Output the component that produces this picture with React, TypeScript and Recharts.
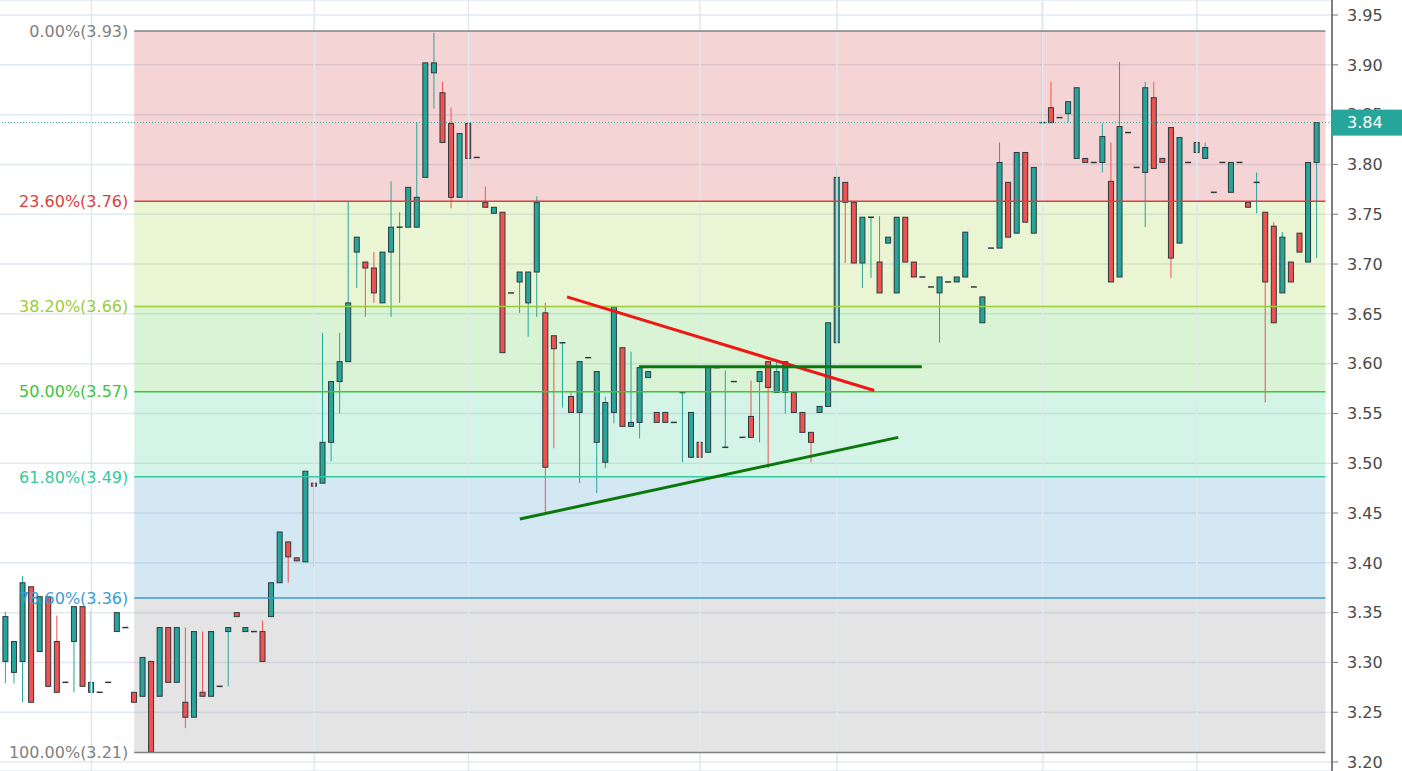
import React from 'react';
import { ComposedChart, Bar, XAxis, YAxis, CartesianGrid, ReferenceArea, ReferenceLine, ReferenceDot } from 'recharts';

// OHLC, one entry per candle
const opens = [
  3.301, 3.290, 3.301, 3.376, 3.311, 3.366, 3.321, 3.280, 3.321, 3.356,
  3.270, 3.270, 3.280, 3.331, 3.335, 3.270, 3.266, 3.301, 3.266, 3.335,
  3.280, 3.260, 3.245, 3.270, 3.266, 3.276, 3.331, 3.350, 3.331, 3.331,
  3.331, 3.346, 3.380, 3.421, 3.405, 3.401, 3.480, 3.480, 3.521, 3.582,
  3.602, 3.712, 3.702, 3.696, 3.661, 3.712, 3.737, 3.737, 3.737, 3.787,
  3.892, 3.872, 3.841, 3.767, 3.841, 3.807, 3.762, 3.751, 3.752, 3.671,
  3.682, 3.661, 3.692, 3.651, 3.628, 3.621, 3.567, 3.551, 3.606, 3.521,
  3.501, 3.551, 3.616, 3.537, 3.541, 3.586, 3.551, 3.551, 3.541, 3.571,
  3.506, 3.521, 3.511, 3.596, 3.516, 3.582, 3.526, 3.547, 3.582, 3.602,
  3.571, 3.571, 3.571, 3.551, 3.531, 3.551, 3.557, 3.621, 3.782, 3.762,
  3.701, 3.747, 3.702, 3.721, 3.671, 3.747, 3.702, 3.687, 3.677, 3.671,
  3.682, 3.682, 3.687, 3.677, 3.641, 3.716, 3.716, 3.782, 3.731, 3.812,
  3.731, 3.842, 3.857, 3.847, 3.851, 3.806, 3.806, 3.802, 3.802, 3.783,
  3.687, 3.832, 3.797, 3.792, 3.867, 3.806, 3.837, 3.721, 3.802, 3.812,
  3.806, 3.772, 3.802, 3.772, 3.802, 3.762, 3.782, 3.752, 3.738, 3.671,
  3.702, 3.731, 3.702, 3.802,
];
const highs = [
  3.351, 3.321, 3.387, 3.376, 3.366, 3.366, 3.347, 3.280, 3.356, 3.356,
  3.351, 3.270, 3.280, 3.350, 3.335, 3.270, 3.305, 3.301, 3.335, 3.335,
  3.335, 3.335, 3.331, 3.331, 3.331, 3.276, 3.335, 3.350, 3.335, 3.331,
  3.342, 3.380, 3.431, 3.421, 3.405, 3.492, 3.480, 3.631, 3.582, 3.631,
  3.763, 3.727, 3.702, 3.712, 3.712, 3.783, 3.752, 3.777, 3.842, 3.902,
  3.932, 3.883, 3.857, 3.831, 3.841, 3.807, 3.778, 3.757, 3.752, 3.671,
  3.692, 3.692, 3.768, 3.661, 3.628, 3.621, 3.571, 3.602, 3.606, 3.592,
  3.567, 3.657, 3.616, 3.612, 3.596, 3.592, 3.551, 3.551, 3.541, 3.571,
  3.551, 3.521, 3.596, 3.596, 3.593, 3.582, 3.526, 3.583, 3.592, 3.602,
  3.602, 3.602, 3.571, 3.551, 3.531, 3.557, 3.641, 3.798, 3.782, 3.762,
  3.747, 3.747, 3.748, 3.727, 3.747, 3.747, 3.702, 3.687, 3.677, 3.687,
  3.682, 3.687, 3.732, 3.677, 3.667, 3.716, 3.822, 3.782, 3.812, 3.812,
  3.797, 3.963, 3.883, 3.847, 3.863, 3.877, 3.806, 3.802, 3.841, 3.822,
  3.903, 3.832, 3.797, 3.883, 3.883, 3.806, 3.837, 3.827, 3.802, 3.822,
  3.822, 3.772, 3.802, 3.802, 3.802, 3.762, 3.792, 3.752, 3.742, 3.732,
  3.702, 3.731, 3.802, 3.842,
];
const lows = [
  3.279, 3.279, 3.260, 3.260, 3.311, 3.276, 3.270, 3.280, 3.270, 3.276,
  3.270, 3.270, 3.280, 3.331, 3.335, 3.260, 3.266, 3.210, 3.266, 3.280,
  3.280, 3.234, 3.245, 3.266, 3.266, 3.276, 3.276, 3.346, 3.331, 3.331,
  3.301, 3.346, 3.380, 3.380, 3.402, 3.401, 3.396, 3.480, 3.502, 3.550,
  3.602, 3.676, 3.647, 3.661, 3.661, 3.647, 3.661, 3.737, 3.737, 3.787,
  3.856, 3.822, 3.756, 3.767, 3.761, 3.807, 3.757, 3.751, 3.611, 3.671,
  3.651, 3.627, 3.647, 3.450, 3.515, 3.556, 3.551, 3.480, 3.606, 3.470,
  3.495, 3.540, 3.537, 3.537, 3.525, 3.586, 3.541, 3.541, 3.541, 3.501,
  3.506, 3.506, 3.511, 3.596, 3.516, 3.582, 3.526, 3.526, 3.521, 3.495,
  3.571, 3.550, 3.551, 3.531, 3.501, 3.551, 3.557, 3.621, 3.701, 3.701,
  3.676, 3.686, 3.671, 3.721, 3.671, 3.702, 3.687, 3.687, 3.677, 3.621,
  3.682, 3.682, 3.687, 3.677, 3.641, 3.716, 3.716, 3.727, 3.731, 3.742,
  3.731, 3.842, 3.842, 3.847, 3.842, 3.806, 3.802, 3.802, 3.792, 3.682,
  3.687, 3.832, 3.797, 3.737, 3.796, 3.802, 3.686, 3.721, 3.802, 3.812,
  3.806, 3.772, 3.802, 3.772, 3.802, 3.757, 3.751, 3.561, 3.641, 3.671,
  3.682, 3.712, 3.702, 3.706,
];
const closes = [
  3.346, 3.321, 3.380, 3.260, 3.366, 3.276, 3.270, 3.280, 3.356, 3.276,
  3.280, 3.270, 3.280, 3.350, 3.335, 3.260, 3.305, 3.210, 3.335, 3.280,
  3.335, 3.245, 3.331, 3.266, 3.331, 3.276, 3.335, 3.346, 3.335, 3.331,
  3.301, 3.380, 3.431, 3.406, 3.402, 3.492, 3.477, 3.521, 3.582, 3.602,
  3.661, 3.727, 3.696, 3.671, 3.712, 3.737, 3.737, 3.777, 3.767, 3.902,
  3.902, 3.822, 3.767, 3.831, 3.806, 3.807, 3.757, 3.757, 3.611, 3.671,
  3.692, 3.692, 3.762, 3.496, 3.615, 3.621, 3.551, 3.602, 3.606, 3.592,
  3.561, 3.657, 3.537, 3.541, 3.596, 3.592, 3.541, 3.541, 3.541, 3.571,
  3.551, 3.506, 3.596, 3.596, 3.516, 3.582, 3.526, 3.526, 3.592, 3.576,
  3.592, 3.602, 3.551, 3.531, 3.521, 3.557, 3.641, 3.787, 3.762, 3.701,
  3.747, 3.747, 3.671, 3.727, 3.747, 3.702, 3.687, 3.687, 3.677, 3.687,
  3.682, 3.687, 3.732, 3.677, 3.667, 3.716, 3.802, 3.727, 3.812, 3.742,
  3.797, 3.842, 3.842, 3.847, 3.863, 3.877, 3.802, 3.802, 3.828, 3.682,
  3.838, 3.832, 3.797, 3.877, 3.796, 3.802, 3.706, 3.827, 3.802, 3.822,
  3.817, 3.772, 3.802, 3.802, 3.802, 3.757, 3.782, 3.682, 3.641, 3.727,
  3.682, 3.712, 3.802, 3.842,
];

const priceTicks = [3.2, 3.25, 3.3, 3.35, 3.4, 3.45, 3.5, 3.55, 3.6, 3.65, 3.7, 3.75, 3.8, 3.85, 3.9, 3.95];
// candle indexes where the time grid has a vertical line
const gridIdx = [10, 36, 54, 81, 97, 121, 139];
// visible range of the time scale, in candle index units
const idxDomain = [-0.6634, 154.763];
const priceDomain = [3.191, 3.9651];

// fibonacci retracement tool
const fibHigh = 3.934;
const fibLow = 3.2096;
const fibStart = 15;
const fibEnd = 154;
const fibRatios = [0, 0.236, 0.382, 0.5, 0.618, 0.786, 1];
const fibLineColors = ['#808080', '#d94141', '#9ccb3b', '#3cc43c', '#36c99b', '#3a9bd6', '#808080'];
const fibBandFills = ['#d35353', '#abd753', '#63d353', '#53d3a3', '#53a3d3', '#939393'];

// drawn trend lines: [candle index, price]
const trendLines = [
  { from: [65.5, 3.667], to: [101.35, 3.573], color: '#f01616' },
  { from: [60.0, 3.444], to: [104.15, 3.526], color: '#0b780b' },
  { from: [73.9, 3.597], to: [106.9, 3.597], color: '#0b780b' },
];

const UP = '#26a69a';
const DOWN = '#ef5350';
const EDGE = '#2f3a40';
const GRID = '#e0e9ef';
const EPS = 0.0002;
const FONT = '"DejaVu Sans", Verdana, sans-serif';

const candles = opens.map((o, i) => ({ i, o, h: highs[i], l: lows[i], c: closes[i] }));
const lastClose = closes[closes.length - 1];
const fibLevels = fibRatios.map((r) => fibHigh - r * (fibHigh - fibLow));

const Candle = (props: any) => {
  const { x, y, width, height, payload } = props;
  if (!payload) return null;
  const { o, h, l, c } = payload;
  const top = Math.min(y, y + height);
  const span = Math.abs(height);
  const hi = h + EPS;
  const lo = l - EPS;
  const py = (p: number) => top + ((hi - p) / (hi - lo)) * span;
  const cx = x + width / 2;
  const color = c >= o ? UP : DOWN;
  const bTop = py(Math.max(o, c));
  const bBot = py(Math.min(o, c));
  return (
    <g>
      {h > l && <line x1={cx} x2={cx} y1={py(h)} y2={py(l)} stroke={color} strokeWidth={1} />}
      {o === c ? (
        <line x1={cx - 3} x2={cx + 3} y1={bTop} y2={bTop} stroke={EDGE} strokeWidth={1.5} />
      ) : (
        <rect x={cx - 2.5} y={bTop} width={5} height={Math.max(bBot - bTop, 1)} fill={color} stroke={EDGE} strokeWidth={1} />
      )}
    </g>
  );
};

// last price tag, drawn as the only tick of an extra 1px axis so it sits over the price labels
const TagTick = (props: any) => {
  const { x, y, payload } = props;
  const left = x > 1367 ? x - 70 : x;
  return (
    <g>
      <rect x={left} y={y - 13} width={71} height={26} fill={UP} />
      <text x={left + 15} y={y} dominantBaseline="central" fill="#fff" fontSize={16} fontFamily={FONT}>
        {Number(payload.value).toFixed(2)}
      </text>
    </g>
  );
};

export default function App() {
  return (
    <div style={{ position: 'fixed', left: 0, top: 0, width: 1403, height: 771, background: '#fff', fontFamily: FONT }}>
      <ComposedChart width={1403} height={771} data={candles} margin={{ top: 0, right: 0, bottom: 0, left: 0 }}>
        <CartesianGrid vertical={false} stroke={GRID} strokeWidth={1.5} />
        <XAxis dataKey="i" hide padding={{ left: 1.4, right: 10.8 }} />
        <XAxis xAxisId="idx" dataKey="i" type="number" hide domain={idxDomain} allowDataOverflow />
        <YAxis
          orientation="right"
          width={70}
          domain={priceDomain}
          allowDataOverflow
          ticks={priceTicks}
          interval={0}
          tickFormatter={(v: number) => v.toFixed(2)}
          tick={{ fill: '#4a4a4a', fontSize: 16, fontFamily: FONT }}
          axisLine={{ stroke: '#555', strokeWidth: 1.5 }}
          tickLine={{ stroke: '#777' }}
          tickSize={6}
          tickMargin={9}
        />
        <YAxis
          yAxisId="tag"
          orientation="right"
          width={1}
          domain={priceDomain}
          allowDataOverflow
          ticks={[lastClose]}
          interval={0}
          tick={<TagTick />}
          axisLine={false}
          tickLine={false}
          tickSize={0}
          tickMargin={0}
        />
        {idxDomain.map((v, k) => (
          <ReferenceDot key={'anchor' + k} xAxisId="idx" x={v} y={3.5} r={0} fill="none" stroke="none" ifOverflow="extendDomain" />
        ))}
        {gridIdx.map((g) => (
          <ReferenceLine key={'g' + g} xAxisId="idx" x={g} stroke={GRID} strokeWidth={1.5} />
        ))}
        {fibBandFills.map((fill, k) => (
          <ReferenceArea
            key={'band' + k}
            xAxisId="idx"
            x1={fibStart}
            x2={fibEnd}
            y1={fibLevels[k + 1]}
            y2={fibLevels[k]}
            fill={fill}
            fillOpacity={0.25}
            stroke="none"
            ifOverflow="visible"
          />
        ))}
        {fibLevels.map((p, k) => (
          <ReferenceLine
            key={'fib' + k}
            xAxisId="idx"
            ifOverflow="visible"
            segment={[{ x: fibStart, y: p }, { x: fibEnd, y: p }]}
            stroke={fibLineColors[k]}
            strokeWidth={1.5}
            label={{
              value: `${(fibRatios[k] * 100).toFixed(2)}%(${p.toFixed(2)})`,
              position: 'left',
              offset: 6,
              fill: fibLineColors[k],
              fontSize: 16,
              fontFamily: FONT,
            }}
          />
        ))}
        <ReferenceLine y={lastClose} stroke={UP} strokeDasharray="1 2" strokeWidth={1} />
        <Bar
          dataKey={(d: any) => [d.l - EPS, d.h + EPS]}
          barSize={6}
          shape={<Candle />}
          isAnimationActive={false}
        />
        {trendLines.map((t, k) => (
          <ReferenceLine
            key={'t' + k}
            xAxisId="idx"
            segment={[{ x: t.from[0], y: t.from[1] }, { x: t.to[0], y: t.to[1] }]}
            stroke={t.color}
            strokeWidth={3}
          />
        ))}
      </ComposedChart>
    </div>
  );
}
